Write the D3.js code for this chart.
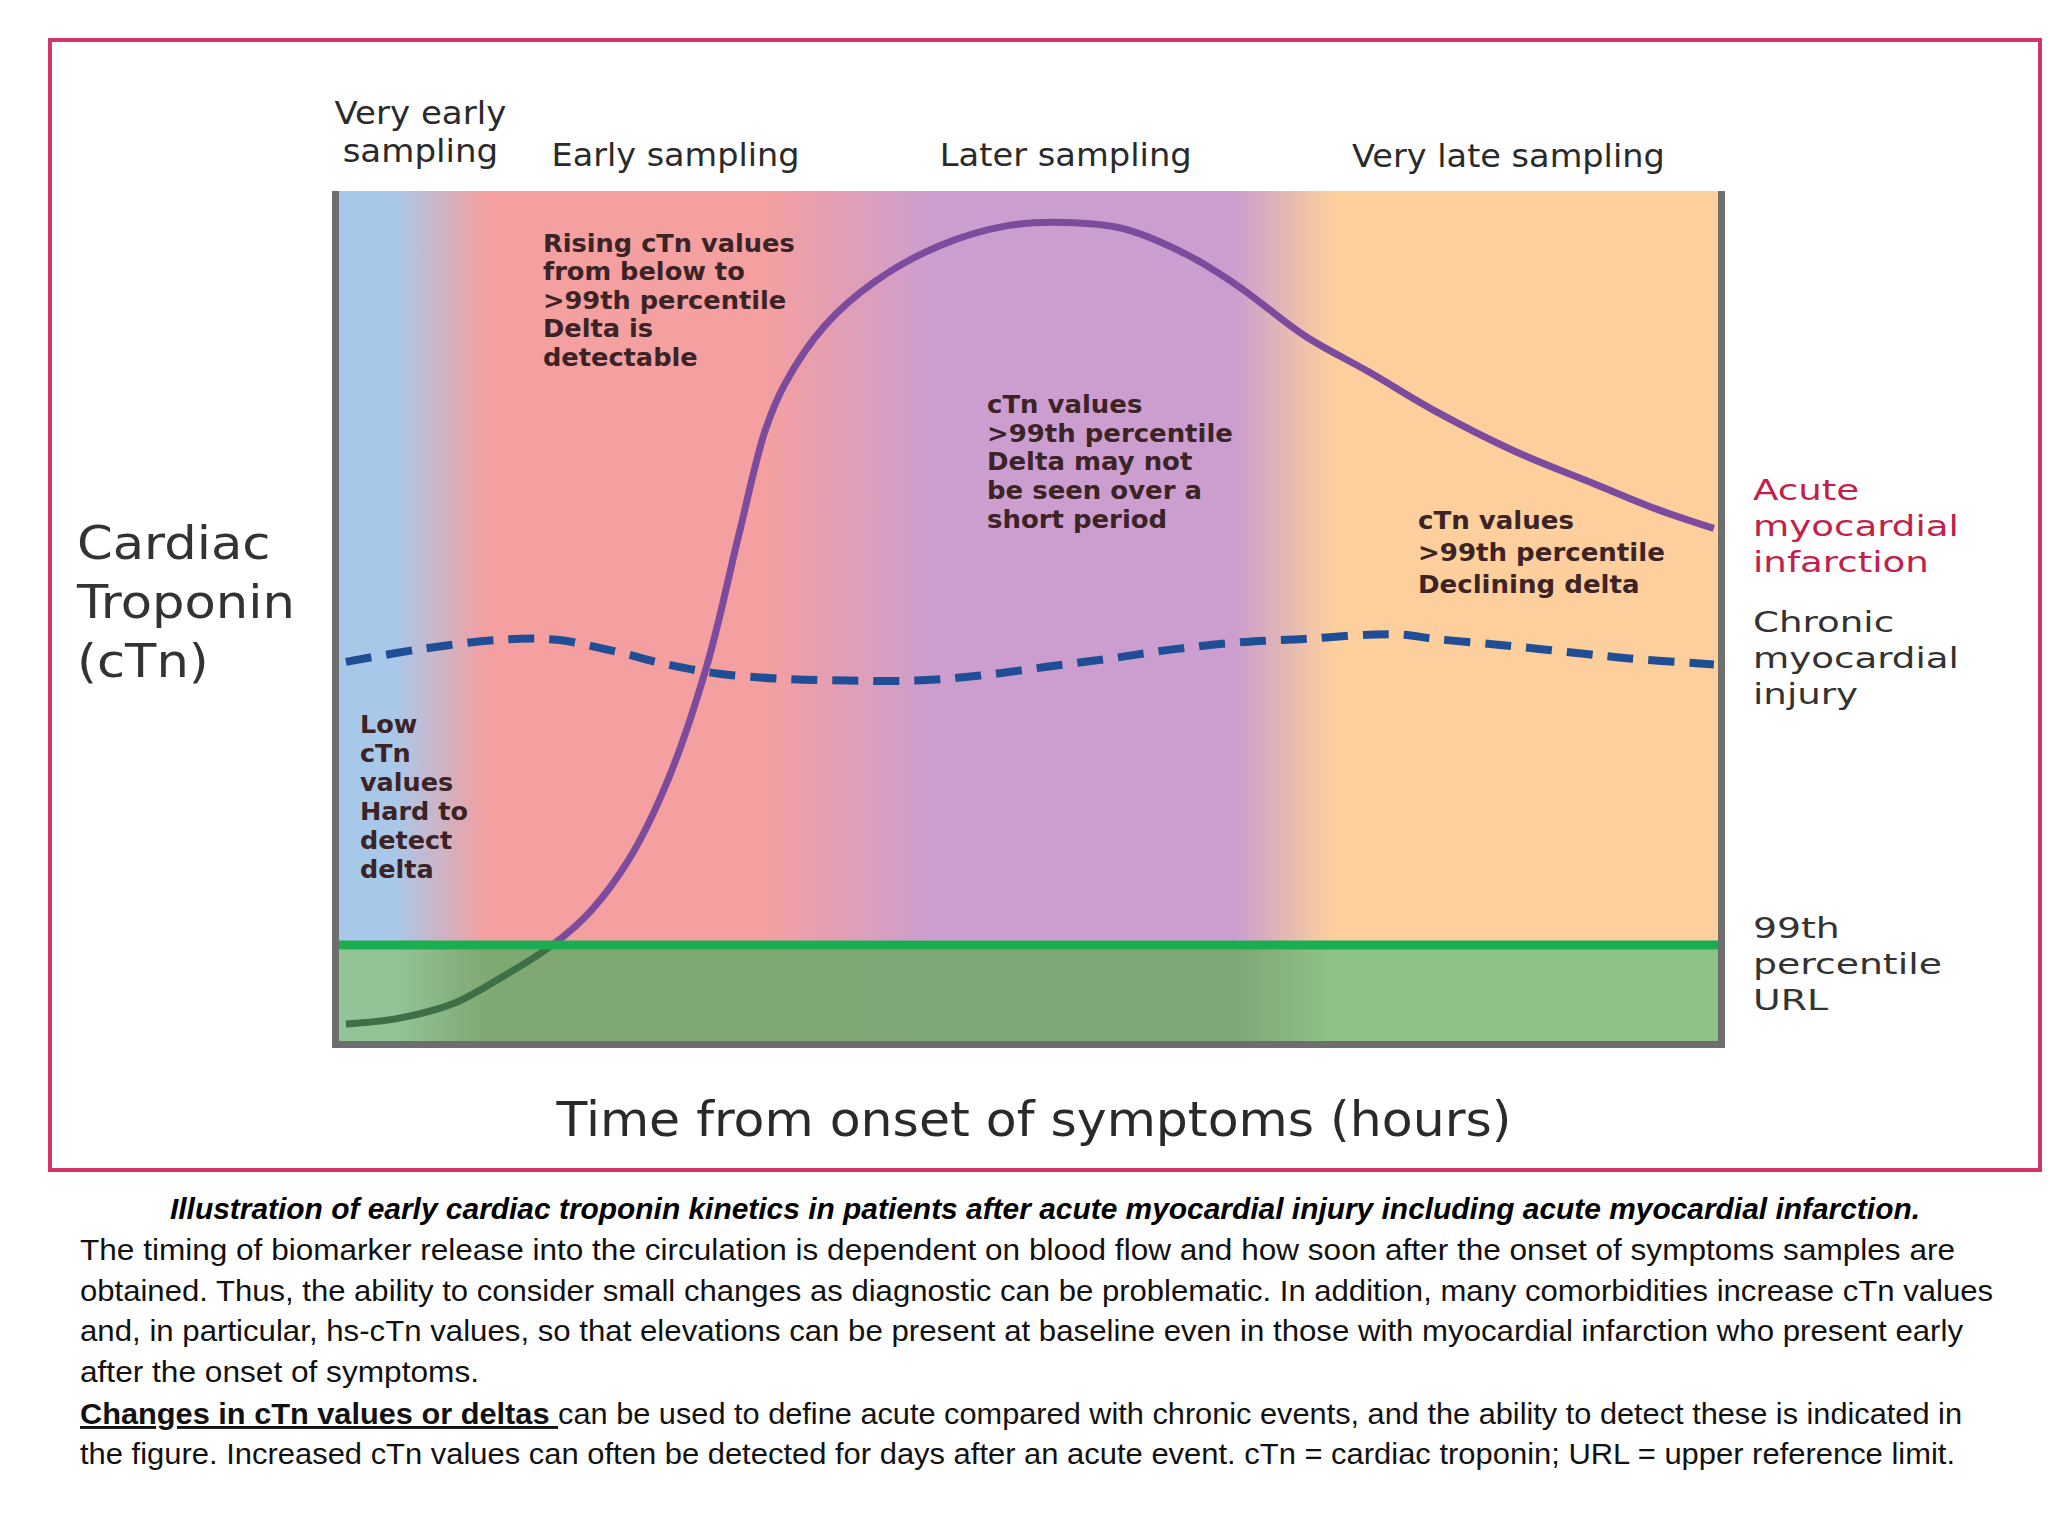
<!DOCTYPE html>
<html lang="en">
<head>
    <title>Cardiac troponin kinetics</title>
    <script src="https://d3js.org/d3.v7.min.js"></script>
    <style>
        body { margin: 0; background: white; }
        svg text { font-family: "DejaVu Sans", sans-serif; }
        svg text.caption { font-family: "Liberation Sans", Arial, sans-serif; }
    </style>
</head>
<body>
    <svg id="chart"></svg>

    <script>
        // ---- data (time and cTn in relative units, 0-100) ----
        var phases = [["Very early", "sampling"], ["Early sampling"], ["Later sampling"], ["Very late sampling"]];
        var phaseCenters = [5.9, 24.4, 52.7, 84.8];

        var acuteTime = [0.5, 4.1, 8.3, 12.1, 15.4, 18.2, 21.0, 23.8, 26.7, 29.0, 30.9, 32.3, 35.2, 38.9, 43.6, 48.4, 52.6, 56.8, 61.5, 65.3, 70.0, 74.7, 79.5, 85.1, 90.8, 95.5, 99.7];
        var acuteCTn  = [2.0, 2.6, 4.4, 7.8, 11.2, 15.2, 21.3, 30.5, 44.3, 59.6, 71.8, 77.2, 84.1, 89.4, 93.6, 95.9, 96.3, 95.6, 92.5, 88.7, 83.0, 78.7, 74.1, 69.5, 65.7, 62.6, 60.3];

        var chronicTime = [0.5, 5.9, 11.6, 15.8, 20.1, 23.8, 27.6, 32.3, 37.0, 41.8, 46.5, 51.2, 55.9, 60.6, 65.3, 70.0, 74.7, 77.1, 79.5, 84.2, 88.9, 93.6, 99.7];
        var chronicCTn  = [44.6, 46.1, 47.2, 47.2, 45.8, 44.3, 43.2, 42.6, 42.4, 42.4, 43.0, 44.0, 45.0, 46.1, 46.9, 47.3, 47.8, 47.8, 47.3, 46.6, 45.8, 45.0, 44.3];

        var url99 = 11.3;

        // background zones (time where each colour starts/ends)
        var zoneStops  = [0, 4, 10.7, 31, 43, 65, 72, 100];
        var zoneColors = ["#a8c8ea", "#a8c8ea", "#f49fa0", "#f49fa0", "#cc9ecf", "#cc9ecf", "#fccf9d", "#fccf9d"];
        var bandColors = ["#92c498", "#92c498", "#80a872", "#7fa873", "#7ea776", "#7ea776", "#8ec387", "#8ec387"];

        var rightLabels = [
            { lines: ["Acute", "myocardial", "infarction"], color: "#c41e4a" },
            { lines: ["Chronic", "myocardial", "injury"], color: "#333333" },
            { lines: ["99th", "percentile", "URL"], color: "#333333" }
        ];

        var notes = [
            ["Rising cTn values", "from below to", ">99th percentile", "Delta is", "detectable"],
            ["cTn values", ">99th percentile", "Delta may not", "be seen over a", "short period"],
            ["cTn values", ">99th percentile", "Declining delta"],
            ["Low", "cTn", "values", "Hard to", "detect", "delta"]
        ];

        var captionTitle = "Illustration of early cardiac troponin kinetics in patients after acute myocardial injury including acute myocardial infarction.";
        var captionLines = [
            "The timing of biomarker release into the circulation is dependent on blood flow and how soon after the onset of symptoms samples are",
            "obtained. Thus, the ability to consider small changes as diagnostic can be problematic. In addition, many comorbidities increase cTn values",
            "and, in particular, hs-cTn values, so that elevations can be present at baseline even in those with myocardial infarction who present early",
            "after the onset of symptoms."
        ];
        var captionBold = "Changes in cTn values or deltas ";
        var captionLines2 = [
            "can be used to define acute compared with chronic events, and the ability to detect these is indicated in",
            "the figure. Increased cTn values can often be detected for days after an acute event. cTn = cardiac troponin; URL = upper reference limit."
        ];

        // ---- layout ----
        var width = 2048, height = 1536;
        var plot = { left: 339, right: 1718, top: 191, bottom: 1041 };

        var svg = d3.select("#chart").attr("width", width).attr("height", height);
        svg.append("rect").attr("width", width).attr("height", height).attr("fill", "white");

        var x = d3.scaleLinear().domain([0, 100]).range([plot.left, plot.right]);
        var y = d3.scaleLinear().domain([0, 100]).range([plot.bottom, plot.top]);

        var defs = svg.append("defs");
        function gradient(id, colors) {
            var g = defs.append("linearGradient").attr("id", id)
                .attr("gradientUnits", "userSpaceOnUse")
                .attr("x1", x(0)).attr("x2", x(100)).attr("y1", 0).attr("y2", 0);
            g.selectAll("stop").data(zoneStops).enter().append("stop")
                .attr("offset", function (d) { return d + "%"; })
                .attr("stop-color", function (d, i) { return colors[i]; });
        }
        gradient("zones", zoneColors);
        gradient("band", bandColors);

        defs.append("clipPath").attr("id", "above").append("rect")
            .attr("x", x(0)).attr("y", y(100)).attr("width", x(100) - x(0)).attr("height", y(url99) - y(100));
        defs.append("clipPath").attr("id", "below").append("rect")
            .attr("x", x(0)).attr("y", y(url99)).attr("width", x(100) - x(0)).attr("height", y(0) - y(url99));

        // outer red frame
        svg.append("rect")
            .attr("x", 50).attr("y", 40).attr("width", 1990).attr("height", 1130)
            .attr("fill", "none").attr("stroke", "#d6336b").attr("stroke-width", 4);

        // background zones and band under the URL
        svg.append("rect")
            .attr("x", x(0)).attr("y", y(100)).attr("width", x(100) - x(0)).attr("height", y(url99) - y(100))
            .attr("fill", "url(#zones)");
        svg.append("rect")
            .attr("x", x(0)).attr("y", y(url99)).attr("width", x(100) - x(0)).attr("height", y(0) - y(url99))
            .attr("fill", "url(#band)");

        var line = d3.line()
            .x(function (d) { return x(d[0]); })
            .y(function (d) { return y(d[1]); })
            .curve(d3.curveCatmullRom.alpha(0.5));

        var acute = d3.zip(acuteTime, acuteCTn);
        var chronic = d3.zip(chronicTime, chronicCTn);

        svg.append("path").datum(acute).attr("d", line)
            .attr("clip-path", "url(#above)")
            .attr("fill", "none").attr("stroke", "#7d4b9e").attr("stroke-width", 7);
        svg.append("path").datum(acute).attr("d", line)
            .attr("clip-path", "url(#below)")
            .attr("fill", "none").attr("stroke", "#3f6f47").attr("stroke-width", 7);

        svg.append("path").datum(chronic).attr("d", line)
            .attr("fill", "none").attr("stroke", "#1f4e96").attr("stroke-width", 8)
            .attr("stroke-dasharray", "26,15");

        // 99th percentile line
        svg.append("line")
            .attr("x1", x(0)).attr("x2", x(100)).attr("y1", y(url99)).attr("y2", y(url99))
            .attr("stroke", "#1aae50").attr("stroke-width", 9);

        // grey frame: left, bottom, right
        var frame = svg.append("g").attr("stroke", "#6e6e6e").attr("stroke-width", 7).attr("fill", "none");
        frame.append("line").attr("x1", x(0) - 3.5).attr("x2", x(0) - 3.5).attr("y1", y(100)).attr("y2", y(0) + 7);
        frame.append("line").attr("x1", x(100) + 3.5).attr("x2", x(100) + 3.5).attr("y1", y(100)).attr("y2", y(0) + 7);
        frame.append("line").attr("x1", x(0) - 7).attr("x2", x(100) + 7).attr("y1", y(0) + 3.5).attr("y2", y(0) + 3.5);

        // block of lines, stretched sideways so the widest line gets the wanted width
        function multiline(lines, x0, y0, dy, size, color, opts) {
            opts = opts || {};
            var t = svg.append("text").attr("font-size", size).attr("fill", color)
                .attr("font-weight", opts.weight || "normal")
                .attr("text-anchor", opts.anchor || "start");
            var spans = t.selectAll("tspan").data(lines).enter().append("tspan")
                .attr("x", x0).attr("y", function (d, i) { return y0 + i * dy; })
                .text(function (d) { return d; });
            if (opts.fit) {
                var w = d3.max(spans.nodes(), function (n) { return n.getComputedTextLength(); });
                var s = opts.fit / w;
                t.attr("transform", "translate(" + x0 + ",0) scale(" + s + ",1) translate(" + (-x0) + ",0)");
            }
            return t;
        }

        // phase labels
        var phaseBase = [124, 166, 166, 167];
        var phaseFit = [172, 248, 252, 313];
        phases.forEach(function (p, i) {
            multiline(p, x(phaseCenters[i]), phaseBase[i], 38, 32, "#2a2a2a", { anchor: "middle", fit: phaseFit[i] });
        });

        // axis titles
        multiline(["Cardiac", "Troponin", "(cTn)"], 77, 559, 59, 46, "#333333", { fit: 218 });
        multiline(["Time from onset of symptoms (hours)"], 1034, 1136, 0, 48, "#2a2a2a", { anchor: "middle", fit: 955 });

        // right-hand labels
        var rightTops = [500, 632, 938];
        var rightFit = [206, 206, 189];
        rightLabels.forEach(function (r, i) {
            multiline(r.lines, 1753, rightTops[i], 36, 29, r.color, { fit: rightFit[i] });
        });

        // notes inside the plot
        var notePos = [[543, 252, 28.5], [987, 413, 28.7], [1418, 529, 32], [360, 733, 29]];
        var noteFit = [252, 246, 247, 108];
        notes.forEach(function (n, i) {
            multiline(n, notePos[i][0], notePos[i][1], notePos[i][2], 24, "#3b2326", { weight: "bold", fit: noteFit[i] });
        });

        // caption
        svg.append("text").attr("class", "caption")
            .attr("x", 170).attr("y", 1219).attr("font-size", 29)
            .attr("font-weight", "bold").attr("font-style", "italic")
            .attr("textLength", 1750).attr("lengthAdjust", "spacingAndGlyphs")
            .text(captionTitle);

        var capW = [1875, 1913, 1883, 399];
        captionLines.forEach(function (l, i) {
            svg.append("text").attr("class", "caption")
                .attr("x", 80).attr("y", 1260 + i * 40.7).attr("font-size", 29).attr("fill", "#111")
                .attr("textLength", capW[i]).attr("lengthAdjust", "spacingAndGlyphs")
                .text(l);
        });

        var t5 = svg.append("text").attr("class", "caption")
            .attr("x", 80).attr("y", 1424).attr("font-size", 29).attr("fill", "#111")
            .attr("textLength", 1882).attr("lengthAdjust", "spacingAndGlyphs");
        t5.append("tspan").attr("font-weight", "bold").attr("text-decoration", "underline").text(captionBold);
        t5.append("tspan").text(captionLines2[0]);

        svg.append("text").attr("class", "caption")
            .attr("x", 80).attr("y", 1464).attr("font-size", 29).attr("fill", "#111")
            .attr("textLength", 1875).attr("lengthAdjust", "spacingAndGlyphs")
            .text(captionLines2[1]);
    </script>
</body>
</html>
